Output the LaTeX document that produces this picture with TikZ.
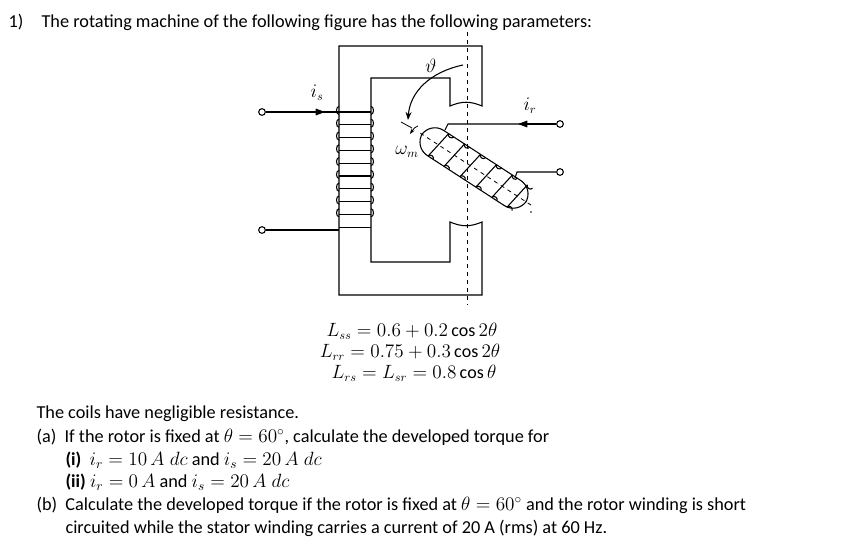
\documentclass[tikz,border=0pt]{standalone}
\usepackage{fontspec}
\setmainfont{Carlito}
\usetikzlibrary{arrows.meta}
\begin{document}
\begin{tikzpicture}[x=0.75pt,y=-0.75pt,line width=0.8pt,
  txt/.style={anchor=west,font=\fontsize{13.7}{15}\selectfont,inner sep=0},
  term/.style={circle,draw,inner sep=0,minimum size=5pt,fill=white},
  eq/.style={font=\fontsize{13.5}{16}\selectfont,inner sep=0}]
\useasboundingbox (0,0) rectangle (857,542);
% core
\draw (339,46) -- (482,46) -- (482,106) .. controls (470,101) and (462,101) .. (450,106) -- (450,78) -- (371,78) -- (371,262) -- (450,262) -- (450,222) .. controls (462,227) and (470,227) .. (482,222) -- (482,295) -- (339,295) -- cycle;
\draw[dashed,line width=0.6pt] (467,32) -- (467,305);
% stator coil
\foreach \i in {0,...,9} {
  \pgfmathsetmacro{\yy}{112+\i*12.8}
  \draw (339,\yy) -- (371,\yy);
}
\foreach \i in {0,...,8} {
  \pgfmathsetmacro{\yy}{112+\i*12.8+6.4}
  \draw (339,\yy-4) arc (90:270:2.5 and 4) ;
  \draw (371,\yy-4) arc (90:-90:2.5 and 4);
}
\node[term] (s1) at (262,112) {};
\node[term] (s2) at (262,230) {};
\coordinate (s1e) at (339,112);
\coordinate (s2e) at (339,230);
\draw (s1) -- (s1e);
\draw[-{Triangle[length=7pt,width=5pt]}] (s1) -- (325,112);
\draw (s2) -- (s2e);
\node[eq] (is) at (317,93) {$i_s$};
% rotor
\begin{scope}[shift={(474,168)},rotate=-33]
  \draw[rounded corners=12pt] (-62,-15) rectangle (62,15);
  \draw[dashed,line width=0.6pt] (-64,0) -- (70,0);
  \foreach \t in {-40,-21,-2,17,36,54} {
    \draw (\t,-15) -- (\t-5,15);
    \draw (\t-5,15) arc (180:360:3 and 2.5);
    \draw (\t,-15) arc (180:0:3 and 2.5);
  }
\end{scope}
\fill (531,212) circle (0.6pt);
\node[term] (r1) at (560,124) {};
\node[term] (r2) at (560,172) {};
\coordinate (r1e) at (448,124);
\coordinate (r2e) at (517,172);
\draw (r1) -- (r1e) -- (445,130);
\draw[-{Triangle[length=7pt,width=5pt]}] (r1) -- (518,124);
\draw (r2) -- (r2e) -- (515,178);
\node[eq] (ir) at (530,106) {$i_r$};
% angle
\draw[-{Stealth[length=6pt]}] (463,65) .. controls (430,72) and (410,92) .. (408,120);
\draw[line width=0.6pt] (401,122) -- (412,128);
\draw[line width=0.6pt,-{Stealth[length=4pt]}] (418,126) .. controls (414,128) .. (410,134);
\node[eq] (th) at (431,66) {$\vartheta$};
\node[eq] (wm) at (407,152) {$\omega_m$};
% equations
\node[eq] (e1) at (412,331) {$L_{ss}=0.6+0.2\cos 2\theta$};
\node[eq] (e2) at (410,352) {$L_{rr}=0.75+0.3\cos 2\theta$};
\node[eq] (e3) at (414,373) {$L_{rs}=L_{sr}=0.8\cos\theta$};
% texts
\node[txt] (n1) at (8,22) {1)\quad The rotating machine of the following figure has the following parameters:};
\node[txt] (t0) at (36,414) {The coils have negligible resistance.};
\node[txt] (ta) at (36,437) {(a)\ \ If the rotor is fixed at $\theta=60^\circ$, calculate the developed torque for};
\node[txt] (ti) at (65,460) {\textbf{(i)}\ \ $i_r=10\,A\;dc$ and $i_s=20\,A\;dc$};
\node[txt] (tii) at (65,482) {\textbf{(ii)} $i_r=0\,A$ and $i_s=20\,A\;dc$};
\node[txt] (tb) at (36,505) {(b)\ \ Calculate the developed torque if the rotor is fixed at $\theta=60^\circ$ and the rotor winding is short};
\node[txt] (tb2) at (65,528) {circuited while the stator winding carries a current of 20 A (rms) at 60 Hz.};
\end{tikzpicture}
\end{document}
